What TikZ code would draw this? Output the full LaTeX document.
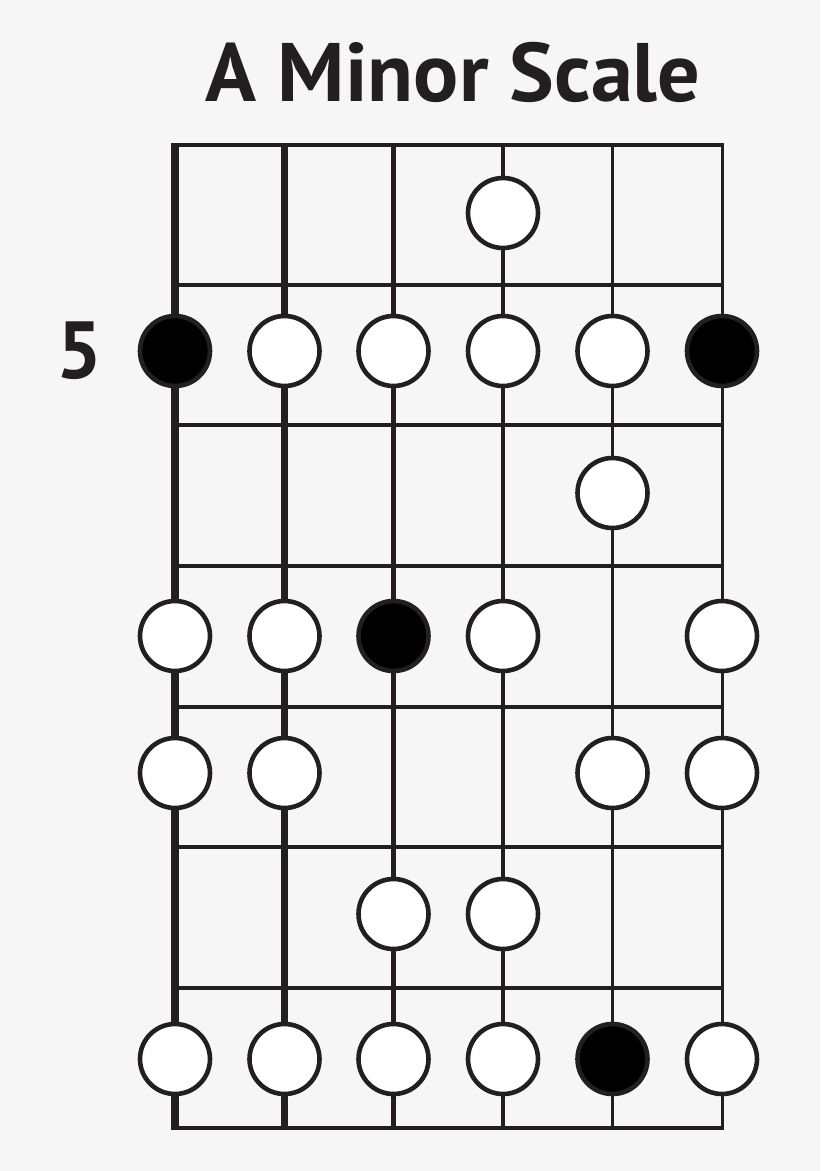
\documentclass[tikz,border=0pt]{standalone}
\usepackage{fontspec}
\setmainfont{PT Sans}
\definecolor{ink}{HTML}{231F20}
\definecolor{bg}{HTML}{F6F6F6}
\begin{document}
\begin{tikzpicture}[x=1pt,y=-1pt,
  note/.style={circle,draw=ink,line width=4.6pt,fill=white,minimum size=70pt,inner sep=0pt},
  rootnote/.style={note,fill=black},
  fretline/.style={draw=ink,line width=4pt,line cap=butt},
  bigtext/.style={font=\bfseries\fontsize{81}{90}\selectfont,text=ink,anchor=base,inner sep=0pt}]
\fill[bg] (0,0) rectangle (820,1171);
\useasboundingbox (0,0) rectangle (820,1171);
% frets
\foreach \y in {145,285,425,566,706.5,847,987.5,1128}
  \draw[fretline] (171,\y) -- (723.5,\y);
% strings
\foreach \x/\w in {175/8,284.5/6.8,393.5/5.8,503/4.6,612.5/3.8,722/3}
  \draw[draw=ink,line width=\w pt,line cap=butt] (\x,143) -- (\x,1130);
% notes
\node[note] (n1-4) at (503,213) {};
\node[rootnote] (n2-1) at (175,351) {};
\node[note] (n2-2) at (284.5,351) {};
\node[note] (n2-3) at (393.5,351) {};
\node[note] (n2-4) at (503,351) {};
\node[note] (n2-5) at (612.5,351) {};
\node[rootnote] (n2-6) at (722,351) {};
\node[note] (n3-5) at (612.5,493) {};
\node[note] (n4-1) at (175,636) {};
\node[note] (n4-2) at (284.5,636) {};
\node[rootnote] (n4-3) at (393.5,636) {};
\node[note] (n4-4) at (503,636) {};
\node[note] (n4-6) at (722,636) {};
\node[note] (n5-1) at (175,773) {};
\node[note] (n5-2) at (284.5,773) {};
\node[note] (n5-5) at (612.5,773) {};
\node[note] (n5-6) at (722,773) {};
\node[note] (n6-3) at (393.5,914) {};
\node[note] (n6-4) at (503,914) {};
\node[note] (n7-1) at (175,1059) {};
\node[note] (n7-2) at (284.5,1059) {};
\node[note] (n7-3) at (393.5,1059) {};
\node[note] (n7-4) at (503,1059) {};
\node[rootnote] (n7-5) at (612.5,1059) {};
\node[note] (n7-6) at (722,1059) {};
% labels
\node[bigtext,font=\bfseries\fontsize{83}{90}\selectfont,xscale=1.015] (title) at (453,101.7) {A Minor Scale};
\node[bigtext] (fret5) at (79,378) {5};
\end{tikzpicture}
\end{document}
